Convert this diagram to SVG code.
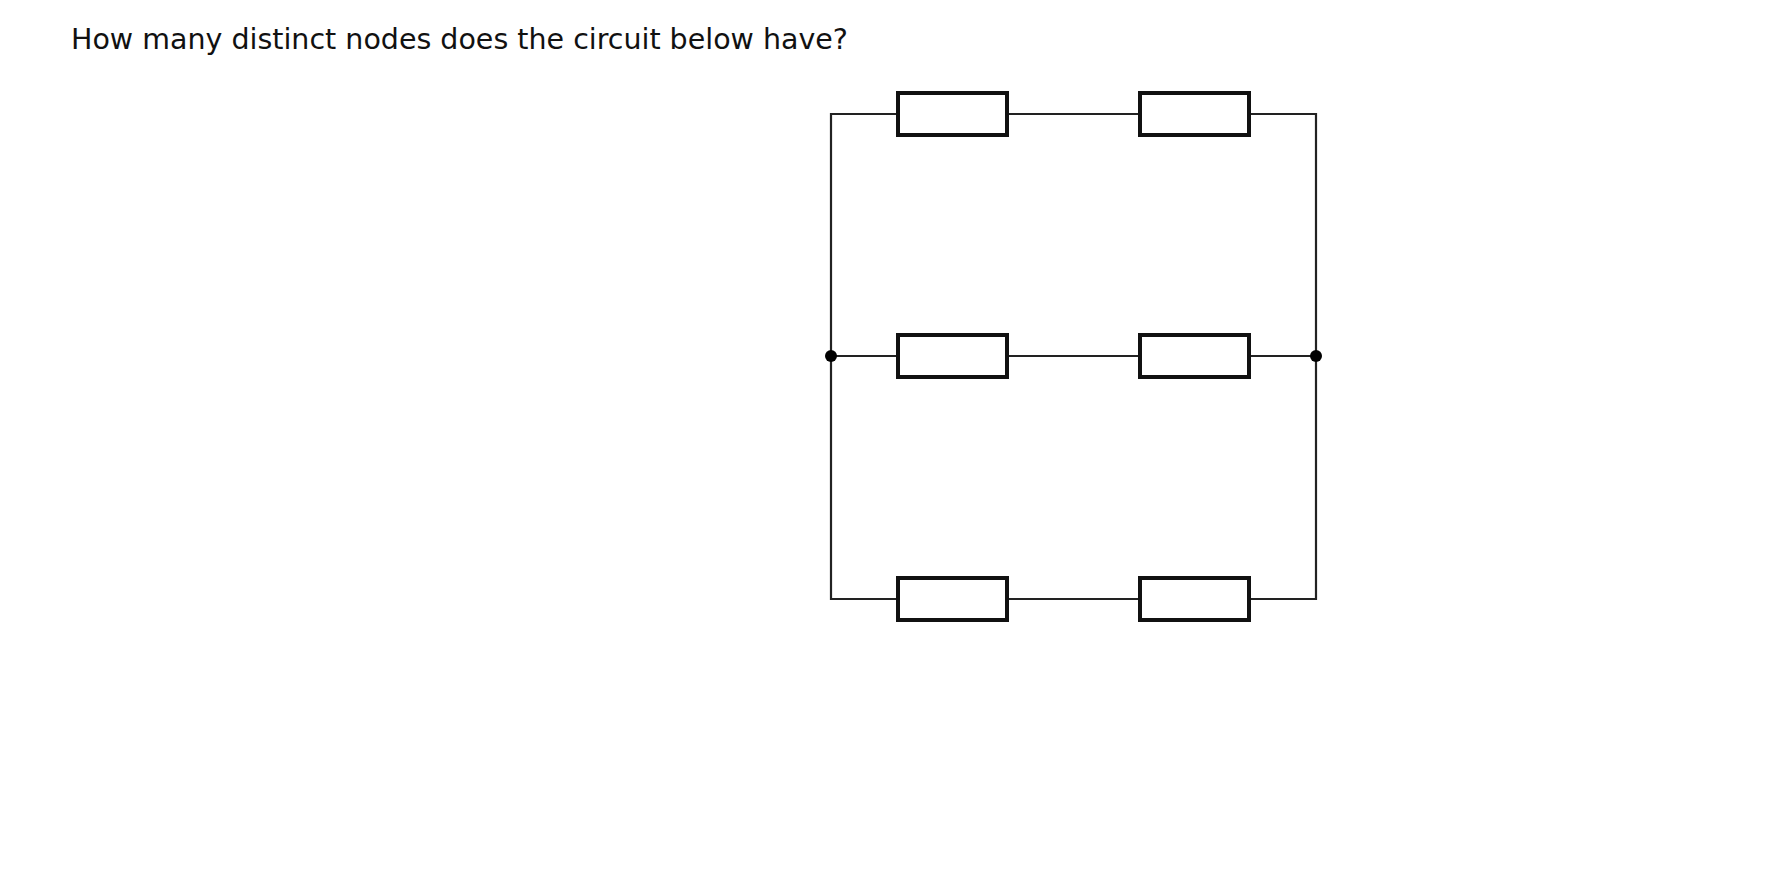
<svg xmlns="http://www.w3.org/2000/svg" width="1768" height="882" viewBox="0 0 1768 882">
<style>
.w{stroke:#222;stroke-width:2.2;fill:none}
.r{stroke:#111;stroke-width:4;fill:#fff}
.t{font-family:"DejaVu Sans Condensed","DejaVu Sans",sans-serif;font-stretch:condensed;font-size:29px;fill:#111}
</style>
<rect width="1768" height="882" fill="#fff"/>
<text class="t" x="71" y="49" textLength="777" lengthAdjust="spacingAndGlyphs">How many distinct nodes does the circuit below have?</text>
<g id="connectors">
<path class="w" d="M898 114H831V599H898M1007 114H1140M1249 114H1316V599H1249M1007 599H1140M831 356H898M1007 356H1140M1249 356H1316"/>
</g>
<g id="R1"><rect class="r" x="898" y="93" width="109" height="42"/></g>
<g id="R2"><rect class="r" x="1140" y="93" width="109" height="42"/></g>
<g id="R3"><rect class="r" x="898" y="335" width="109" height="42"/></g>
<g id="R4"><rect class="r" x="1140" y="335" width="109" height="42"/></g>
<g id="R5"><rect class="r" x="898" y="578" width="109" height="42"/></g>
<g id="R6"><rect class="r" x="1140" y="578" width="109" height="42"/></g>
<g id="nodeL"><circle cx="831" cy="356" r="6" fill="#000"/></g>
<g id="nodeR"><circle cx="1316" cy="356" r="6" fill="#000"/></g>
</svg>
